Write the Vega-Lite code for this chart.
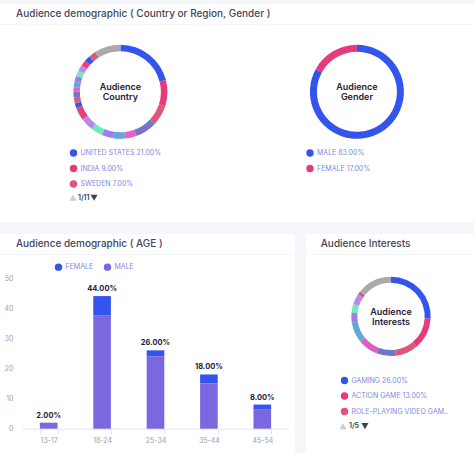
{
  "$schema": "https://vega.github.io/schema/vega-lite/v6.json",
  "padding": {"left": 0, "top": 4, "right": 0, "bottom": 0},
  "background": "#f5f6fa",
  "config": {
    "font": "Inter",
    "view": {"fill": "white", "stroke": null},
    "legend": {"title": null, "symbolType": "circle", "symbolSize": 55, "labelFontSize": 7, "labelColor": "#8388e0", "labelOverlap": false, "symbolStrokeWidth": 0, "labelOffset": 3}
  },
  "datasets": {
    "country": [
      {"i": 1, "name": "UNITED STATES 21.00%", "share": 21},
      {"i": 2, "name": "INDIA 9.00%", "share": 9},
      {"i": 3, "name": "SWEDEN 7.00%", "share": 7},
      {"i": 4, "name": "Country 4", "share": 7.5},
      {"i": 5, "name": "Country 5", "share": 4},
      {"i": 6, "name": "Country 6", "share": 4},
      {"i": 7, "name": "Country 7", "share": 4},
      {"i": 8, "name": "Country 8", "share": 4},
      {"i": 9, "name": "Country 9", "share": 4.5},
      {"i": 10, "name": "Country 10", "share": 4.5},
      {"i": 11, "name": "Country 11", "share": 1.6},
      {"i": 12, "name": "Country 12", "share": 2},
      {"i": 13, "name": "Country 13", "share": 2},
      {"i": 14, "name": "Country 14", "share": 1.5},
      {"i": 15, "name": "Country 15", "share": 2},
      {"i": 16, "name": "Country 16", "share": 2},
      {"i": 17, "name": "Country 17", "share": 2},
      {"i": 18, "name": "Country 18", "share": 2},
      {"i": 19, "name": "Country 19", "share": 2},
      {"i": 20, "name": "Country 20", "share": 2},
      {"i": 21, "name": "Country 21", "share": 2.5},
      {"i": 22, "name": "Others", "share": 9}
    ],
    "gender": [
      {"i": 1, "name": "MALE 83.00%", "share": 83},
      {"i": 2, "name": "FEMALE 17.00%", "share": 17}
    ],
    "interests": [
      {"i": 1, "name": "GAMING 26.00%", "share": 26},
      {"i": 2, "name": "ACTION GAME 13.00%", "share": 13},
      {"i": 3, "name": "ROLE-PLAYING VIDEO GAM..", "share": 9},
      {"i": 4, "name": "Interest 4", "share": 8},
      {"i": 5, "name": "Interest 5", "share": 8},
      {"i": 6, "name": "Interest 6", "share": 8.5},
      {"i": 7, "name": "Interest 7", "share": 4},
      {"i": 8, "name": "Interest 8", "share": 3.5},
      {"i": 9, "name": "Interest 9", "share": 4.5},
      {"i": 10, "name": "Interest 10", "share": 1.2},
      {"i": 11, "name": "Others", "share": 14.3}
    ],
    "age": [
      {"age": "13-17", "gender": "MALE", "value": 2},
      {"age": "18-24", "gender": "FEMALE", "value": 6.5},
      {"age": "18-24", "gender": "MALE", "value": 37.5},
      {"age": "25-34", "gender": "FEMALE", "value": 2},
      {"age": "25-34", "gender": "MALE", "value": 24},
      {"age": "35-44", "gender": "FEMALE", "value": 3},
      {"age": "35-44", "gender": "MALE", "value": 15},
      {"age": "45-54", "gender": "FEMALE", "value": 1.5},
      {"age": "45-54", "gender": "MALE", "value": 6.5}
    ],
    "ageTotals": [
      {"age": "13-17", "total": 2, "label": "2.00%"},
      {"age": "18-24", "total": 44, "label": "44.00%"},
      {"age": "25-34", "total": 26, "label": "26.00%"},
      {"age": "35-44", "total": 18, "label": "18.00%"},
      {"age": "45-54", "total": 8, "label": "8.00%"}
    ]
  },
  "vconcat": [
    {
      "spacing": 1,
      "vconcat": [
        {
          "width": 474,
          "height": 20,
          "data": {"values": [{"title": "Audience demographic ( Country or Region, Gender )"}]},
          "mark": {"type": "text", "align": "left", "fontSize": 10, "fontWeight": 500, "color": "#44445a"},
          "encoding": {
            "x": {"datum": 3.4, "type": "quantitative", "scale": {"domain": [0, 100]}, "axis": null},
            "text": {"field": "title"}
          }
        },
        {
          "spacing": 0,
          "hconcat": [
            {
              "width": 237,
              "height": 197,
              "layer": [
                {
                  "data": {"name": "country"},
                  "mark": {"type": "arc", "radius": 47, "radius2": 40.5},
                  "encoding": {
                    "x": {"datum": 50.8, "type": "quantitative", "scale": {"domain": [0, 100]}, "axis": null},
                    "y": {"datum": 33.9, "type": "quantitative", "scale": {"domain": [0, 100], "reverse": true}, "axis": null},
                    "theta": {"field": "share", "type": "quantitative"},
                    "order": {"field": "i", "type": "quantitative"},
                    "color": {
                      "field": "name",
                      "type": "nominal",
                      "scale": {
                        "domain": ["UNITED STATES 21.00%", "INDIA 9.00%", "SWEDEN 7.00%", "Country 4", "Country 5", "Country 6", "Country 7", "Country 8", "Country 9", "Country 10", "Country 11", "Country 12", "Country 13", "Country 14", "Country 15", "Country 16", "Country 17", "Country 18", "Country 19", "Country 20", "Country 21", "Others"],
                        "range": ["#3355ee", "#e63a7a", "#e0557a", "#7276c8", "#ee5fc0", "#5fa8d8", "#a07de8", "#70e8c0", "#bb88e8", "#e8407a", "#3355ee", "#cc6080", "#7276c8", "#ee5fc0", "#5fa8d8", "#a07de8", "#70e8c0", "#bb88e8", "#e8407a", "#3355ee", "#cc6080", "#aaaaaa"]
                      },
                      "legend": {"orient": "none", "legendX": 69.5, "legendY": 124, "values": ["UNITED STATES 21.00%", "INDIA 9.00%", "SWEDEN 7.00%"], "rowPadding": 7.5}
                    }
                  }
                },
                {
                  "data": {"values": [{"label": "Audience\nCountry"}]},
                  "mark": {"type": "text", "lineBreak": "\n", "dy": -4.5, "fontSize": 9, "fontWeight": 600, "color": "#22223a", "lineHeight": 10},
                  "encoding": {
                    "x": {"datum": 50.8, "type": "quantitative"},
                    "y": {"datum": 33.9, "type": "quantitative"},
                    "text": {"field": "label"}
                  }
                },
                {
                  "data": {"values": [{"page": "1/11"}]},
                  "mark": {"type": "point", "shape": "triangle-up", "filled": true, "size": 50, "color": "#cccccc", "opacity": 1},
                  "encoding": {
                    "x": {"datum": 30.8, "type": "quantitative"},
                    "y": {"datum": 87.7, "type": "quantitative"}
                  }
                },
                {
                  "data": {"values": [{"page": "1/11"}]},
                  "mark": {"type": "text", "align": "left", "fontSize": 7, "fontWeight": 600, "color": "#33334a"},
                  "encoding": {
                    "x": {"datum": 32.9, "type": "quantitative"},
                    "y": {"datum": 87.7, "type": "quantitative"},
                    "text": {"field": "page"}
                  }
                },
                {
                  "data": {"values": [{"page": "1/11"}]},
                  "mark": {"type": "point", "shape": "triangle-down", "filled": true, "size": 50, "color": "#3c4250", "opacity": 1},
                  "encoding": {
                    "x": {"datum": 39.7, "type": "quantitative"},
                    "y": {"datum": 87.7, "type": "quantitative"}
                  }
                }
              ]
            },
            {
              "width": 237,
              "height": 197,
              "layer": [
                {
                  "data": {"name": "gender"},
                  "mark": {"type": "arc", "radius": 47, "radius2": 40},
                  "encoding": {
                    "x": {"datum": 50.6, "type": "quantitative", "scale": {"domain": [0, 100]}, "axis": null},
                    "y": {"datum": 33.9, "type": "quantitative", "scale": {"domain": [0, 100], "reverse": true}, "axis": null},
                    "theta": {"field": "share", "type": "quantitative"},
                    "order": {"field": "i", "type": "quantitative"},
                    "color": {
                      "field": "name",
                      "type": "nominal",
                      "scale": {"domain": ["MALE 83.00%", "FEMALE 17.00%"], "range": ["#3355ee", "#e63a7a"]},
                      "legend": {"orient": "none", "legendX": 69, "legendY": 124, "rowPadding": 7.5}
                    }
                  }
                },
                {
                  "data": {"values": [{"label": "Audience\nGender"}]},
                  "mark": {"type": "text", "lineBreak": "\n", "dy": -4.5, "fontSize": 9, "fontWeight": 600, "color": "#22223a", "lineHeight": 10},
                  "encoding": {
                    "x": {"datum": 50.6, "type": "quantitative"},
                    "y": {"datum": 33.9, "type": "quantitative"},
                    "text": {"field": "label"}
                  }
                }
              ]
            }
          ],
          "resolve": {"scale": {"color": "independent", "x": "independent", "y": "independent"}}
        }
      ]
    },
    {
      "spacing": 11,
      "hconcat": [
        {
          "spacing": 1,
          "vconcat": [
            {
              "width": 295,
              "height": 20,
              "data": {"values": [{"title": "Audience demographic ( AGE )"}]},
              "mark": {"type": "text", "align": "left", "fontSize": 10, "fontWeight": 500, "color": "#44445a"},
              "encoding": {
                "x": {"datum": 5.4, "type": "quantitative", "scale": {"domain": [0, 100]}, "axis": null},
                "text": {"field": "title"}
              }
            },
            {
              "width": 295,
              "height": 198,
              "layer": [
                {
                  "data": {"name": "age"},
                  "mark": {"type": "bar"},
                  "encoding": {
                    "x": {
                      "field": "age",
                      "type": "nominal",
                      "title": null,
                      "scale": {"range": [22, 289], "paddingInner": 0.67, "paddingOuter": 0.335},
                      "axis": {"offset": -24.3, "labelAngle": 0, "labelFontSize": 7, "labelColor": "#a0a0aa", "domainColor": "#e4e4f2", "tickColor": "#e4e4f2", "tickBand": "extent", "tickSize": 5, "labelPadding": 3}
                    },
                    "y": {
                      "field": "value",
                      "type": "quantitative",
                      "title": null,
                      "scale": {"domain": [0, 50], "range": [173.7, 23]},
                      "axis": {"offset": -22, "grid": false, "domain": false, "ticks": false, "values": [0, 10, 20, 30, 40, 50], "labelOverlap": false, "labelFontSize": 7, "labelColor": "#a0a0aa", "labelPadding": 9}
                    },
                    "color": {
                      "field": "gender",
                      "type": "nominal",
                      "scale": {"domain": ["FEMALE", "MALE"], "range": ["#3355ee", "#7b68e0"]},
                      "legend": {"orient": "none", "direction": "horizontal", "legendX": 54.5, "legendY": 29, "columnPadding": 10}
                    }
                  }
                },
                {
                  "data": {"name": "ageTotals"},
                  "mark": {"type": "text", "baseline": "bottom", "dy": -3, "fontSize": 7.5, "fontWeight": 700, "color": "#22223a"},
                  "encoding": {
                    "x": {
                      "field": "age",
                      "type": "nominal",
                      "title": null,
                      "axis": {"offset": -24.3, "labelAngle": 0, "labelFontSize": 7, "labelColor": "#a0a0aa", "domainColor": "#e4e4f2", "tickColor": "#e4e4f2", "tickBand": "extent", "tickSize": 5, "labelPadding": 3}
                    },
                    "y": {
                      "field": "total",
                      "type": "quantitative",
                      "title": null,
                      "axis": {"offset": -22, "grid": false, "domain": false, "ticks": false, "values": [0, 10, 20, 30, 40, 50], "labelOverlap": false, "labelFontSize": 7, "labelColor": "#a0a0aa", "labelPadding": 9}
                    },
                    "text": {"field": "label"}
                  }
                }
              ]
            }
          ]
        },
        {
          "spacing": 1,
          "vconcat": [
            {
              "width": 168,
              "height": 20,
              "data": {"values": [{"title": "Audience Interests"}]},
              "mark": {"type": "text", "align": "left", "fontSize": 10, "fontWeight": 500, "color": "#44445a"},
              "encoding": {
                "x": {"datum": 8.8, "type": "quantitative", "scale": {"domain": [0, 100]}, "axis": null},
                "text": {"field": "title"}
              }
            },
            {
              "width": 168,
              "height": 198,
              "layer": [
                {
                  "data": {"name": "interests"},
                  "mark": {"type": "arc", "radius": 39.7, "radius2": 33.7},
                  "encoding": {
                    "x": {"datum": 50.6, "type": "quantitative", "scale": {"domain": [0, 100]}, "axis": null},
                    "y": {"datum": 31, "type": "quantitative", "scale": {"domain": [0, 100], "reverse": true}, "axis": null},
                    "theta": {"field": "share", "type": "quantitative"},
                    "order": {"field": "i", "type": "quantitative"},
                    "color": {
                      "field": "name",
                      "type": "nominal",
                      "scale": {
                        "domain": ["GAMING 26.00%", "ACTION GAME 13.00%", "ROLE-PLAYING VIDEO GAM..", "Interest 4", "Interest 5", "Interest 6", "Interest 7", "Interest 8", "Interest 9", "Interest 10", "Others"],
                        "range": ["#3355ee", "#e63a7a", "#e0557a", "#7276c8", "#dd60c0", "#5fa8d8", "#a07de8", "#70e8c0", "#bb88e8", "#e8407a", "#aaaaaa"]
                      },
                      "legend": {"orient": "none", "legendX": 34.5, "legendY": 142.5, "values": ["GAMING 26.00%", "ACTION GAME 13.00%", "ROLE-PLAYING VIDEO GAM.."], "rowPadding": 7.5}
                    }
                  }
                },
                {
                  "data": {"values": [{"label": "Audience\nInterests"}]},
                  "mark": {"type": "text", "lineBreak": "\n", "dy": -4, "fontSize": 9, "fontWeight": 600, "color": "#22223a", "lineHeight": 10},
                  "encoding": {
                    "x": {"datum": 50.6, "type": "quantitative"},
                    "y": {"datum": 31, "type": "quantitative"},
                    "text": {"field": "label"}
                  }
                },
                {
                  "data": {"values": [{"page": "1/5"}]},
                  "mark": {"type": "point", "shape": "triangle-up", "filled": true, "size": 50, "color": "#cccccc", "opacity": 1},
                  "encoding": {
                    "x": {"datum": 22, "type": "quantitative"},
                    "y": {"datum": 86.4, "type": "quantitative"}
                  }
                },
                {
                  "data": {"values": [{"page": "1/5"}]},
                  "mark": {"type": "text", "align": "left", "fontSize": 7, "fontWeight": 600, "color": "#33334a"},
                  "encoding": {
                    "x": {"datum": 25.6, "type": "quantitative"},
                    "y": {"datum": 86.4, "type": "quantitative"},
                    "text": {"field": "page"}
                  }
                },
                {
                  "data": {"values": [{"page": "1/5"}]},
                  "mark": {"type": "point", "shape": "triangle-down", "filled": true, "size": 50, "color": "#3c4250", "opacity": 1},
                  "encoding": {
                    "x": {"datum": 35.1, "type": "quantitative"},
                    "y": {"datum": 86.4, "type": "quantitative"}
                  }
                }
              ]
            }
          ]
        }
      ],
      "resolve": {"scale": {"color": "independent", "x": "independent", "y": "independent"}}
    }
  ],
  "spacing": 12,
  "resolve": {"scale": {"color": "independent", "x": "independent", "y": "independent"}}
}
